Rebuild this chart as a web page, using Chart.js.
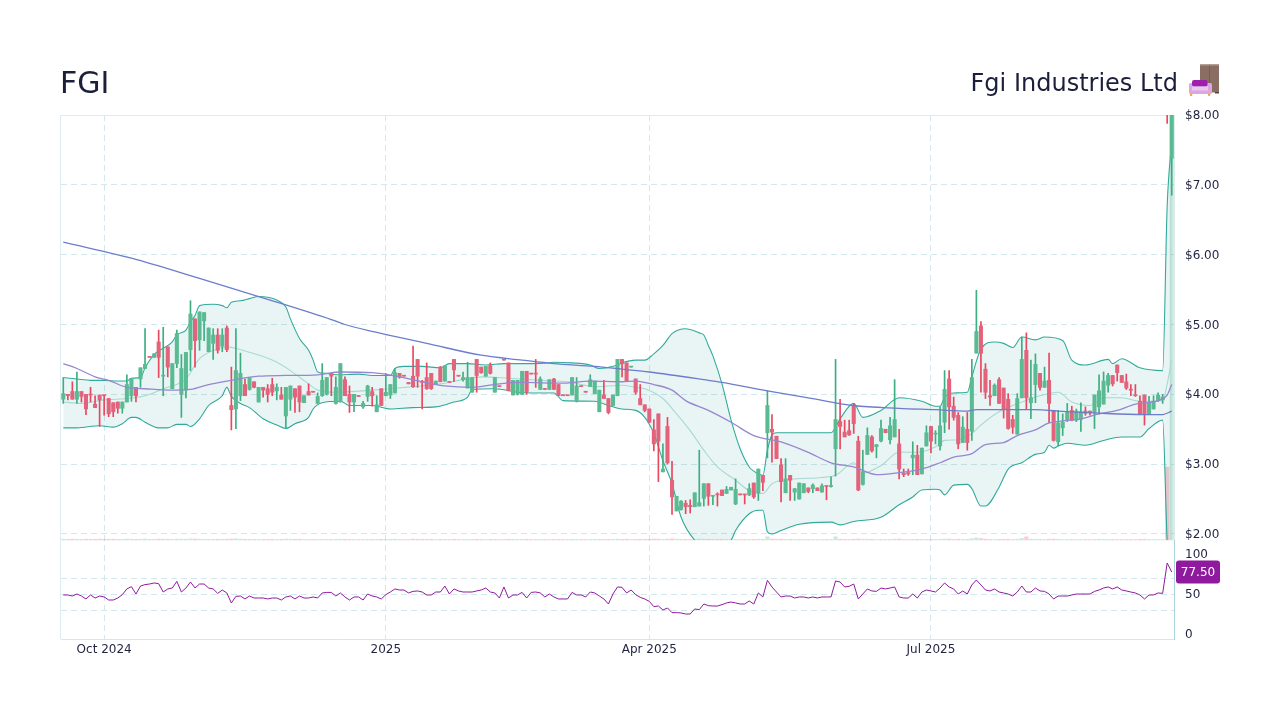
<!DOCTYPE html>
<html><head><meta charset="utf-8"><title>FGI</title>
<script src="https://cdn.jsdelivr.net/npm/chart.js@4"></script>
<style>
html,body{margin:0;padding:0;background:#fff;width:1280px;height:720px;overflow:hidden}
#wrap{position:relative;width:1280px;height:720px;font-family:"DejaVu Sans",sans-serif;color:#1c1f3a}
#c{position:absolute;left:0;top:0}
#sym{position:absolute;left:60px;top:65px;font-size:30px;line-height:36px}
#name{position:absolute;right:102px;top:68px;font-size:24px;line-height:30px;white-space:nowrap}
#logo{position:absolute;left:1185px;top:60px}
</style></head><body>
<div id="wrap">
<canvas id="c" width="1280" height="720"></canvas>
<div id="sym">FGI</div><div id="name">Fgi Industries Ltd</div>
<svg id="logo" width="40" height="40" viewBox="0 0 40 40">
<rect x="15" y="4.5" width="19" height="28" fill="#8a6d63"/><rect x="24.3" y="4.5" width="0.6" height="28" fill="#6d544b"/>
<rect x="15" y="4.5" width="19" height="1.2" fill="#a58c82"/><rect x="30" y="32" width="4" height="1.5" fill="#5c453d"/>
<rect x="4" y="23" width="23" height="11" rx="1.5" fill="#dba6e2"/><rect x="7" y="20" width="15.5" height="6.5" rx="2" fill="#9c1fae"/>
<rect x="7" y="26.5" width="16" height="4" fill="#e9c8ee"/>
<rect x="5" y="34" width="2.2" height="1.8" fill="#f2a02e"/><rect x="23" y="34" width="2.2" height="1.8" fill="#f2a02e"/>
</svg>
</div>
<script>
const symbolName = 'FGI';
const xTickIndex = [9, 71, 129, 191];
const xTickLabels = ['Oct 2024', '2025', 'Apr 2025', 'Jul 2025'];
const priceTicks = [2, 3, 4, 5, 6, 7, 8];
const rsiTicks = [0, 30, 50, 70, 100];
const rsiLabelled = [0, 50, 100];

const opens = [
3.93,4.00,4.04,3.93,4.04,4.00,4.00,3.86,3.99,3.99,
3.94,3.88,3.89,3.80,3.89,3.98,4.10,4.22,4.37,4.54,
4.53,4.75,4.26,4.68,4.08,4.44,4.00,4.06,4.64,5.08,
4.78,5.05,4.61,4.73,4.85,4.69,4.95,3.84,3.79,3.98,
4.14,4.07,4.18,3.89,4.10,4.08,4.14,4.05,3.99,3.69,
3.93,4.08,4.12,3.88,4.04,4.04,3.87,3.98,4.00,4.30,
3.87,3.89,4.21,4.00,3.89,3.98,3.82,3.97,4.04,3.75,
4.08,3.98,3.99,4.02,4.30,4.27,4.17,4.26,4.50,4.18,
4.24,4.30,4.14,4.39,4.19,4.18,4.50,4.27,4.21,4.09,
4.03,4.50,4.39,4.26,4.41,4.03,4.12,4.50,4.45,3.99,
4.00,4.00,4.33,4.30,4.30,4.07,4.08,4.07,4.22,4.14,
3.99,3.99,3.99,3.90,4.12,4.04,4.11,4.01,3.75,3.99,
3.94,3.84,3.98,4.50,4.45,4.39,4.22,3.94,3.85,3.79,
3.49,3.72,2.89,3.54,2.77,2.33,2.35,2.44,2.41,2.39,
2.40,2.51,2.72,2.54,2.57,2.63,2.58,2.63,2.43,2.57,
2.57,2.56,2.73,2.59,2.84,3.45,3.50,3.40,2.99,2.59,
2.84,2.60,2.50,2.59,2.66,2.65,2.66,2.60,2.69,2.68,
3.22,3.61,3.46,3.48,3.84,3.33,2.71,3.14,3.39,3.25,
3.33,3.50,3.35,3.39,3.29,2.87,2.88,3.09,3.13,2.86,
3.26,3.54,3.43,3.26,3.60,4.22,3.83,3.70,3.31,3.50,
3.47,4.59,4.98,4.36,3.98,3.98,4.21,4.09,3.93,3.64,
3.43,3.95,4.63,3.88,4.14,4.30,4.10,4.20,3.77,3.32,
3.52,3.63,3.77,3.63,3.64,3.76,3.76,3.74,3.82,3.86,
4.13,4.27,4.42,4.27,4.18,4.07,3.99,3.90,3.99,3.71,
3.79,3.91,3.92,8.30,7.38];
const closes = [
4.01,3.98,3.93,4.04,3.97,3.79,3.99,3.81,3.92,3.98,
3.72,3.75,3.80,3.89,4.14,4.23,3.98,4.38,4.43,4.53,
4.58,4.53,4.27,4.39,4.44,4.87,4.37,4.60,5.15,4.77,
5.18,5.17,4.95,4.85,4.63,4.85,4.64,3.78,4.34,4.30,
3.98,4.24,4.10,4.10,4.06,4.00,4.03,4.10,3.93,4.10,
4.12,3.96,3.89,3.98,3.99,4.03,3.97,4.20,4.24,4.26,
4.10,4.44,3.98,3.89,4.00,3.97,3.87,4.12,3.98,3.85,
3.84,4.03,4.14,4.31,4.25,4.26,4.15,4.11,4.26,4.17,
4.08,4.08,4.19,4.18,4.41,4.17,4.35,4.26,4.24,4.24,
4.24,4.27,4.31,4.40,4.30,4.24,4.11,4.49,4.05,4.20,
4.20,4.33,4.04,4.29,4.29,4.22,4.07,4.21,4.07,3.98,
3.98,3.98,4.24,4.12,4.11,4.03,4.21,4.19,4.06,3.94,
3.74,3.99,4.50,4.44,4.19,4.40,4.03,3.85,3.77,3.60,
3.29,3.33,2.93,3.02,2.53,2.54,2.47,2.39,2.39,2.59,
2.45,2.72,2.54,2.55,2.56,2.55,2.64,2.67,2.64,2.56,
2.56,2.65,2.53,2.93,2.74,3.84,3.46,3.08,2.75,2.79,
2.77,2.65,2.73,2.72,2.61,2.70,2.62,2.69,2.68,2.69,
3.64,3.54,3.39,3.42,3.58,2.63,2.89,3.41,3.19,3.28,
3.51,3.45,3.55,3.64,2.93,2.85,2.86,3.13,2.85,3.23,
3.45,3.33,3.44,3.55,4.07,3.82,3.67,3.29,3.53,3.31,
4.24,4.90,4.59,4.03,3.96,4.13,3.87,3.79,3.51,3.53,
3.94,4.50,3.95,3.95,4.43,4.10,4.19,3.87,3.34,3.59,
3.60,3.74,3.63,3.76,3.75,3.73,3.74,3.99,4.05,4.19,
4.27,4.15,4.31,4.17,4.09,4.06,3.98,3.71,3.71,3.87,
3.90,3.99,3.96,8.10,8.20];
const highs = [
4.24,4.00,4.18,4.32,4.04,4.00,4.10,3.98,3.99,3.99,
3.94,3.88,3.89,3.89,4.28,4.23,4.10,4.38,4.94,4.54,
4.58,4.92,4.96,4.68,4.44,4.92,4.57,4.60,5.34,5.08,
5.18,5.17,4.95,4.94,4.94,4.94,4.98,4.39,4.94,4.59,
4.22,4.24,4.18,4.10,4.10,4.14,4.23,4.15,4.10,4.10,
4.12,4.08,4.12,3.98,4.15,4.04,4.02,4.44,4.24,4.30,
4.25,4.44,4.25,4.12,4.00,3.98,3.90,4.13,4.10,3.98,
4.08,4.30,4.14,4.37,4.30,4.27,4.17,4.69,4.50,4.20,
4.45,4.30,4.19,4.40,4.41,4.18,4.50,4.27,4.32,4.46,
4.24,4.50,4.39,4.40,4.45,4.24,4.12,4.50,4.45,4.20,
4.20,4.33,4.33,4.30,4.50,4.25,4.08,4.21,4.23,4.14,
3.99,3.99,4.24,4.24,4.12,4.04,4.28,4.19,4.06,4.20,
3.94,3.99,4.50,4.50,4.45,4.40,4.22,4.14,3.85,3.79,
3.64,3.72,3.29,3.67,3.04,2.54,2.48,2.48,2.49,2.59,
3.20,2.72,2.72,2.55,2.59,2.63,2.68,2.67,2.79,2.57,
2.57,2.72,2.73,2.93,2.84,4.05,3.71,3.40,3.08,3.08,
2.84,2.65,2.73,2.72,2.66,2.72,2.66,2.72,2.69,2.82,
4.50,3.93,3.63,3.63,3.87,3.40,3.20,3.52,3.41,3.28,
3.63,3.50,3.67,4.21,3.50,2.93,2.93,3.32,3.27,3.23,
3.55,3.54,3.48,3.82,4.34,4.34,3.96,3.74,3.68,3.74,
4.50,5.49,5.04,4.44,4.20,4.15,4.24,4.09,4.01,3.70,
4.01,4.82,4.88,4.49,4.58,4.30,4.39,4.59,3.77,3.77,
3.72,3.87,3.83,3.79,3.88,3.82,3.76,3.99,4.28,4.32,
4.30,4.27,4.42,4.27,4.29,4.14,4.14,3.98,3.99,3.97,
3.98,4.02,4.00,8.30,8.20];
const lows = [
3.87,3.92,3.93,3.87,3.89,3.71,3.89,3.81,3.54,3.70,
3.68,3.68,3.73,3.73,3.89,3.90,3.89,4.10,4.37,4.53,
4.53,4.24,3.98,4.25,4.08,4.38,3.67,3.95,4.34,4.39,
4.63,4.77,4.61,4.50,4.59,4.61,4.61,3.49,3.51,3.91,
3.98,4.06,4.09,3.89,3.96,3.89,3.98,3.92,3.93,3.51,
3.77,3.74,3.75,3.88,3.99,4.03,3.87,3.97,3.99,3.98,
3.86,3.89,3.98,3.74,3.75,3.97,3.80,3.90,3.83,3.75,
3.84,3.98,3.94,4.02,4.23,4.26,4.15,4.10,4.10,3.79,
4.07,4.07,4.14,4.18,4.19,4.17,4.18,4.26,4.19,4.09,
4.03,4.03,4.30,4.26,4.29,4.03,4.11,4.49,4.05,3.99,
3.99,4.00,4.00,4.29,4.10,4.07,4.07,4.07,4.07,3.98,
3.98,3.98,3.99,3.89,4.11,4.03,4.11,4.01,3.75,3.94,
3.72,3.84,3.98,4.25,4.18,4.39,4.00,3.85,3.75,3.60,
3.19,2.75,2.89,3.00,2.28,2.33,2.34,2.29,2.30,2.39,
2.40,2.40,2.41,2.42,2.40,2.55,2.58,2.63,2.42,2.56,
2.43,2.55,2.51,2.48,2.62,3.09,3.03,3.08,2.46,2.59,
2.48,2.48,2.50,2.59,2.59,2.59,2.62,2.60,2.49,2.67,
2.83,3.22,3.39,3.41,3.44,2.62,2.70,3.14,3.17,3.09,
3.32,3.45,3.29,3.39,2.79,2.82,2.84,2.85,2.85,2.86,
3.26,3.16,3.29,3.20,3.45,3.50,3.63,3.22,3.31,3.20,
3.34,4.59,4.03,3.94,3.84,3.98,3.87,3.66,3.50,3.44,
3.43,3.95,3.79,3.65,3.88,4.06,4.10,3.59,3.33,3.26,
3.41,3.61,3.62,3.61,3.47,3.70,3.70,3.51,3.72,3.86,
4.03,4.12,4.19,4.17,4.07,3.98,3.97,3.71,3.56,3.71,
3.79,3.90,3.87,7.88,6.85];
// thousands of shares, estimated from the thin strip along the panel floor
const volumes = [
22,18,25,20,17,24,19,21,26,18,
20,23,17,19,28,24,18,21,30,16,
19,27,25,22,18,26,24,23,32,28,
24,20,22,19,23,21,26,30,33,25,
18,20,17,19,16,18,21,17,19,26,
22,20,23,16,15,14,17,21,18,16,
20,24,18,19,17,14,15,19,16,18,
20,17,22,24,15,14,15,26,22,19,
21,20,15,19,18,14,20,14,16,19,
18,21,16,17,19,18,14,15,22,19,
18,20,21,14,16,17,15,16,18,17,
14,14,19,20,15,14,17,18,21,17,
19,18,26,19,22,16,18,20,18,21,
30,28,18,26,34,24,20,19,17,20,
26,22,19,15,17,16,15,14,20,14,
16,15,18,24,17,90,28,24,27,20,
18,16,19,15,14,14,13,14,16,14,
90,24,18,16,22,30,24,22,18,14,
20,15,19,24,30,14,14,18,20,19,
18,17,15,20,30,28,16,22,16,18,
36,60,42,26,17,15,18,20,24,14,
26,44,90,24,22,16,15,24,28,22,
16,15,15,14,17,13,12,20,22,21,
17,15,14,14,15,13,14,19,22,16,
15,14,14,2060,15000];

const sma200At = [0,15,30,45,59,62,68,80,92,101,108,117,123,129,142,145,155,164,174,184,192,199,201,214,219,228,238,242,244];
const sma200 = [6.18,5.95,5.66,5.36,5.07,5.00,4.90,4.73,4.56,4.49,4.44,4.40,4.36,4.32,4.20,4.17,4.05,3.95,3.84,3.80,3.78,3.76,3.78,3.78,3.76,3.73,3.71,3.71,3.76];
const sma50At = [0,3,7,10,14,18,24,28,32,36,43,49,56,61,68,74,79,84,90,96,101,110,116,123,126,130,134,137,142,147,152,158,164,169,174,179,184,189,193,196,200,203,207,210,214,217,220,224,228,232,236,241,243,244];
const sma50 = [4.44,4.37,4.25,4.20,4.10,4.08,4.06,4.07,4.14,4.19,4.26,4.27,4.28,4.32,4.31,4.25,4.18,4.12,4.10,4.15,4.17,4.16,4.19,4.18,4.19,4.14,4.06,3.91,3.77,3.60,3.41,3.32,3.17,3.02,2.96,2.85,2.88,2.93,3.02,3.10,3.15,3.28,3.31,3.41,3.49,3.59,3.62,3.65,3.72,3.77,3.86,3.91,3.99,4.14];

const bbUpperAt = [0,3,6,9,12,14,15,17,18,20,22,24,25,27,28,29,30,33,35,36,37,39,41,43,45,47,49,50,52,54,55,56,58,60,65,68,72,73,75,79,83,85,89,93,97,102,107,108,112,116,118,122,123,126,128,130,132,134,137,140,141,142,143,145,147,149,151,152,154,155,156,157,169,171,174,176,180,184,189,192,193,194,196,199,200,202,205,207,209,211,214,216,220,222,225,230,231,233,237,242,243,244];
const bbUpper = [4.24,4.22,4.20,4.20,4.19,4.19,4.23,4.24,4.38,4.57,4.66,4.75,4.85,4.92,5.04,5.13,5.27,5.29,5.27,5.24,5.32,5.34,5.37,5.40,5.39,5.35,5.25,5.08,4.80,4.63,4.49,4.32,4.30,4.28,4.29,4.27,4.27,4.37,4.40,4.40,4.38,4.44,4.44,4.42,4.44,4.44,4.45,4.46,4.45,4.42,4.37,4.42,4.45,4.49,4.49,4.58,4.70,4.87,4.94,4.88,4.85,4.70,4.55,4.15,3.63,3.22,2.96,2.90,2.84,3.20,3.42,3.45,3.45,3.65,3.87,3.67,3.77,3.95,3.90,3.83,3.83,3.96,4.02,4.03,4.25,4.65,4.75,4.73,4.67,4.82,4.78,4.82,4.77,4.49,4.42,4.50,4.44,4.51,4.38,4.34,6.70,7.64];
const bbLowerAt = [0,3,8,11,13,15,16,18,21,23,25,27,28,30,32,35,36,37,39,41,44,47,49,51,54,55,57,61,63,68,72,77,82,86,89,90,95,100,104,108,110,117,120,123,126,128,130,132,134,136,139,142,145,147,148,151,153,154,155,156,158,162,169,171,174,180,184,187,189,192,193,194,196,199,200,202,203,206,208,211,214,216,217,218,219,221,225,229,233,237,239,242,243,244];
const bbLower = [3.52,3.52,3.55,3.53,3.58,3.67,3.67,3.60,3.52,3.52,3.57,3.57,3.54,3.65,3.84,3.98,4.10,3.97,3.87,3.81,3.65,3.56,3.51,3.58,3.67,3.79,3.88,3.90,3.84,3.84,3.79,3.81,3.82,3.89,3.96,4.07,4.08,4.03,4.02,4.02,3.91,3.90,3.84,3.79,3.77,3.67,3.44,3.05,2.72,2.24,1.91,1.78,1.80,1.91,2.05,2.29,2.34,2.34,2.03,2.00,2.05,2.14,2.17,2.13,2.18,2.24,2.42,2.53,2.63,2.64,2.63,2.56,2.70,2.71,2.65,2.40,2.40,2.67,2.93,3.02,3.14,3.17,3.27,3.23,3.26,3.30,3.27,3.34,3.39,3.39,3.51,3.63,1.90,1.30];
const bbMidAt = [0,4,9,14,18,22,27,30,34,36,40,46,50,54,56,60,68,72,77,83,87,92,98,105,111,117,123,126,128,132,135,138,141,144,148,151,154,156,160,167,170,174,176,180,184,188,192,194,197,200,202,206,211,215,219,222,226,229,233,237,242,243,244];
const bbMid = [3.89,3.87,3.92,3.94,3.98,4.08,4.22,4.51,4.65,4.68,4.62,4.49,4.34,4.15,4.06,4.03,4.06,4.08,4.11,4.15,4.20,4.25,4.23,4.20,4.18,4.11,4.13,4.10,4.08,3.94,3.72,3.48,3.20,2.96,2.77,2.62,2.58,2.72,2.78,2.81,2.84,3.02,2.87,2.98,3.17,3.17,3.25,3.34,3.35,3.44,3.56,3.75,3.89,3.98,4.03,3.89,3.84,3.95,3.95,3.90,3.91,4.15,4.50];

const rsi = [
48.8,48.8,47.5,50,47.5,43.8,48.8,45,47.5,46.3,
42.5,42.5,45,49.2,56.3,59.2,50,60,61.7,62.5,
63.8,62.9,52.5,56.3,57.5,65.8,52.5,57.5,65,57.5,
62.5,62.5,57.5,56.3,50.8,55,51.3,38.8,47.1,47.5,
43.8,47.5,45,45,45,43.8,45,45,42.5,46.3,
47.5,43.8,47.5,45,45,46.3,45,51.3,52,52,
47.5,51.3,46.3,42.5,46.3,46.3,42.5,50,47.5,46.3,
43.8,49.2,52.5,56.3,55,55,51.3,53.3,53.8,52.5,
48.8,48.8,52.5,52.5,60,50,56.3,53.8,52.5,52.5,
52.5,53.8,55,57.5,52.5,51.3,45,58.8,45,48.8,
48.8,52,45,52,52.5,51.3,46.3,50,46.3,43.8,
43.8,43.8,52,48.8,48.8,46.3,52.5,51.3,47.5,43.8,
37.5,50,58.8,
58.3,51.3,55,49.2,45.8,43.8,40.8,34.2,35,30,
32.5,26.7,26.7,26.3,25,25,31.3,30.4,37.5,35.4,
35,35,36.7,38.8,40,38.8,37.5,37.5,41.3,37.5,
51.3,46.3,67.1,58.8,52.5,46.3,47.5,47.5,45,46.3,
46.3,45,46.3,45,46.3,46.3,46.3,66.3,65,58.8,
59.6,62.5,43.8,50,56.3,53.8,53.3,57.5,56.3,57.5,
58.8,46.3,45,45,50,45,52.5,55,53.8,52.5,
57.5,63.8,58.8,56.3,50,53.8,50,61.3,67.5,61.3,
55,53.8,56.3,52.5,51.3,50,47.5,52.5,60,52.5,
52.5,57.5,53.8,53.3,50,43.8,47.5,47.5,47.5,48.8,
50,50,50,50,53.3,55,57.5,58.8,56.3,58.8,
55,53.8,52.5,51.3,48.8,43.8,48.8,48.8,51.3,50.8,
88.8,77.5];

const pairs = (at, vals) => at.map((x, k) => ({x, y: vals[k]}));
const up = i => closes[i] >= opens[i];
const bodyUp = '#5abb92', bodyDown = '#e2637b', wickUp = '#3cae82', wickDown = '#e9475f';
const wickColors = closes.map((_, i) => up(i) ? wickUp : wickDown);
const bodyColors = closes.map((_, i) => up(i) ? bodyUp : bodyDown);
const volColors = closes.map((_, i) => up(i) ? 'rgba(85,183,142,0.30)' : 'rgba(224,93,118,0.30)');
const gridColor = '#d3e8ec', gridDash = [6, 4];
const textColor = '#1f2340', rsiColor = '#8f1a9e';
const tickFont = {family: '"DejaVu Sans", sans-serif', size: 12};
const volTop = 12000, volFloor = -volTop * 99 / 425; // floor keeps zero on the price-panel base

const frame = {
  id: 'frame',
  beforeDatasetsDraw(ch) {
    const a = ch.chartArea, c = ch.ctx;
    c.save(); c.strokeStyle = '#dcecef'; c.lineWidth = 1; c.beginPath();
    c.moveTo(a.left - 0.5, a.top + 0.5); c.lineTo(a.right, a.top + 0.5);
    c.moveTo(a.left - 0.5, a.top); c.lineTo(a.left - 0.5, a.bottom);
    c.stroke(); c.restore();
  }
};
const lastBadge = {
  id: 'lastBadge',
  afterDraw(ch) {
    const s = ch.scales.yRsi, c = ch.ctx, v = rsi[rsi.length - 1];
    const y = s.getPixelForValue(v), x = s.left + 2, w = 44, h = 23;
    c.save(); c.fillStyle = rsiColor; c.beginPath(); c.roundRect(x, y - h / 2, w, h, 3); c.fill();
    c.fillStyle = '#fff'; c.font = '12px "DejaVu Sans", sans-serif';
    c.textAlign = 'center'; c.textBaseline = 'middle'; c.fillText(v.toFixed(2), x + w / 2, y + 0.5);
    c.restore();
  }
};
const line = (label, data, color, yAxisID, order, extra) => Object.assign({
  type: 'line', label, data, borderColor: color, borderWidth: 1.1, pointRadius: 0, cubicInterpolationMode: 'monotone', yAxisID, order, fill: false
}, extra || {});

new Chart(document.getElementById('c').getContext('2d'), {
  data: {
    datasets: [
      line('RSI', pairs(closes.map((_, i) => i), rsi), rsiColor, 'yRsi', 1, {cubicInterpolationMode: 'default', tension: 0, borderWidth: 1}),
      line('SMA 200', pairs(sma200At, sma200), '#6c7dcb', 'y', 2, {borderWidth: 1.3}),
      line('SMA 50', pairs(sma50At, sma50), '#9787cf', 'y', 2, {borderWidth: 1.3}),
      {type: 'bar', label: 'Body', data: closes.map((v, i) => ({x: i, y: [opens[i], v]})), backgroundColor: bodyColors, barThickness: 3.4, grouped: false, minBarLength: 1, yAxisID: 'y', order: 3},
      {type: 'bar', label: 'Wick', data: closes.map((_, i) => ({x: i, y: [lows[i], highs[i]]})), backgroundColor: wickColors, barThickness: 1, grouped: false, yAxisID: 'y', order: 4},
      line('BB upper', pairs(bbUpperAt, bbUpper), '#32ab9b', 'y', 5, {fill: {target: '+1', above: 'rgba(15,130,130,0.09)', below: 'rgba(15,130,130,0.09)'}}),
      line('BB lower', pairs(bbLowerAt, bbLower), '#32ab9b', 'y', 5),
      line('BB middle', pairs(bbMidAt, bbMid), '#b5e3da', 'y', 5),
      {type: 'bar', label: 'Volume', data: volumes.map((v, i) => ({x: i, y: v})), backgroundColor: volColors, barThickness: 3.5, grouped: false, yAxisID: 'v', order: 6}
    ]
  },
  options: {
    responsive: false, animation: false, devicePixelRatio: 1,
    layout: {padding: {left: 61, top: 115, right: 0, bottom: 0}},
    plugins: {legend: {display: false}, tooltip: {enabled: false}, title: {display: false}},
    scales: {
      x: {
        type: 'linear', min: -0.5, max: 244.5, position: 'bottom', offset: false,
        afterFit(s) { s.height = 81; },
        afterBuildTicks(s) { s.ticks = xTickIndex.map(value => ({value})); },
        ticks: {autoSkip: false, maxRotation: 0, padding: 4, color: textColor, font: tickFont, callback: v => xTickLabels[xTickIndex.indexOf(v)]},
        grid: {offset: false, color: gridColor, tickLength: 0, drawTicks: false},
        border: {color: gridColor, dash: gridDash}
      },
      y: {
        type: 'linear', position: 'right', stack: 'panes', stackWeight: 425, weight: 1, min: 1.914, max: 8,
        afterFit(s) { s.width = 106; },
        afterBuildTicks(s) { s.ticks = priceTicks.map(value => ({value})); },
        ticks: {autoSkip: false, padding: 11, labelOffset: 1, color: textColor, font: tickFont, callback: v => '$' + v.toFixed(2)},
        grid: {color: gridColor, drawTicks: false},
        border: {color: '#dcecef', dash: gridDash}
      },
      yRsi: {
        type: 'linear', axis: 'y', position: 'right', stack: 'panes', stackWeight: 99, weight: 2, min: -6.25, max: 117.5,
        afterFit(s) { s.width = 106; },
        afterBuildTicks(s) { s.ticks = rsiTicks.map(value => ({value})); },
        ticks: {autoSkip: false, padding: 11, labelOffset: 1, color: textColor, font: tickFont, callback: v => rsiLabelled.includes(v) ? String(v) : ''},
        grid: {color: c => (c.tick && (c.tick.value === 0 || c.tick.value === 100)) ? 'rgba(0,0,0,0)' : gridColor, drawTicks: false},
        border: {color: '#a9d4dd', dash: gridDash}
      },
      v: {type: 'linear', display: false, position: 'left', min: volFloor, max: volTop, grid: {display: false}}
    }
  },
  plugins: [frame, lastBadge]
});
</script>
</body></html>
